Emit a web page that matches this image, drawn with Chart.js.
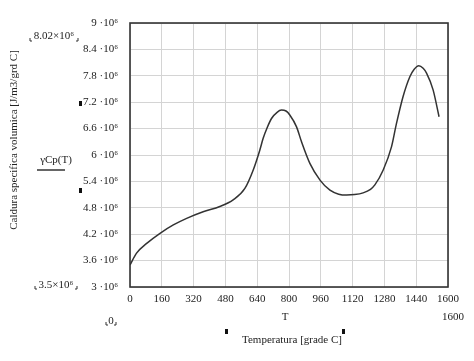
<!DOCTYPE html>
<html><head><meta charset="utf-8">
<script src="https://cdn.jsdelivr.net/npm/chart.js@4/dist/chart.umd.min.js"></script>
<style>html,body{margin:0;padding:0;background:#fff}#w{width:474px;height:361px}</style>
</head><body><div id="w"><canvas id="c" width="474" height="361"></canvas></div>
<script>
const temps = [0,33,84,151,218,285,368,452,519,578,620,653,670,690,712,740,762,785,804,838,863,905,956,1006,1050,1090,1130,1173,1210,1232,1274,1316,1340,1374,1408,1430,1453,1475,1492,1525,1555];
const cpValues = [3.50,3.77,3.99,4.22,4.41,4.56,4.71,4.83,4.98,5.24,5.66,6.11,6.38,6.62,6.83,6.97,7.02,7.00,6.91,6.64,6.30,5.81,5.43,5.20,5.11,5.09,5.10,5.14,5.22,5.32,5.66,6.19,6.70,7.33,7.78,7.95,8.03,7.97,7.86,7.48,6.87].map(v=>v*1e6);
const xTicks = [0,160,320,480,640,800,960,1120,1280,1440,1600];
const yTicks = [3,3.6,4.2,4.8,5.4,6,6.6,7.2,7.8,8.4,9];

const FONT = '"Liberation Serif", "Times New Roman", serif';
const TXT = '#222';

const extras = {
  id:'extras',
  afterDatasetsDraw(chart){
    const {ctx, chartArea:a} = chart;
    ctx.save();
    ctx.strokeStyle = '#333'; ctx.lineWidth = 1.6;
    ctx.strokeRect(a.left, a.top, a.right-a.left, a.bottom-a.top);
    ctx.restore();
  },
  afterDraw(chart){
    const ctx = chart.ctx;
    ctx.save();
    ctx.fillStyle = TXT;
    ctx.font = '11px ' + FONT;
    ctx.save();
    ctx.translate(14, 140);
    ctx.rotate(-Math.PI/2);
    ctx.textAlign='center'; ctx.textBaseline='middle';
    ctx.fillText('Caldura specifica volumica [J/m3/grd C]', 0, 0);
    ctx.restore();
    ctx.textAlign='center'; ctx.textBaseline='middle';
    ctx.fillText('8.02×10⁶', 54, 36);
    ctx.fillText('γCp(T)', 56, 160);
    ctx.fillText('3.5×10⁶', 56, 285);
    ctx.fillText('0', 111, 321);
    ctx.fillText('T', 285, 317);
    ctx.fillText('1600', 453, 317);
    ctx.fillText('Temperatura [grade C]', 292, 340);
    ctx.strokeStyle='#333'; ctx.lineWidth=1.5;
    ctx.beginPath(); ctx.moveTo(37,170); ctx.lineTo(65,170); ctx.stroke();
    ctx.fillStyle='#111';
    [[79,101],[79,188],[225,329],[342,329]].forEach(p=>ctx.fillRect(p[0],p[1],3,5));
    ctx.strokeStyle='#333'; ctx.lineWidth=1;
    function corner(x,y,dir){ctx.beginPath();ctx.moveTo(x,y-3);ctx.lineTo(x,y);ctx.lineTo(x+2*dir,y);ctx.stroke();}
    corner(30,41,1); corner(78,41,-1);
    corner(35,289,1); corner(77,289,-1);
    corner(106,325,1); corner(116,325,-1);
    ctx.restore();
  }
};

new Chart(document.getElementById('c'), {
  type:'line',
  data:{ datasets:[{
    data: temps.map((t,i)=>({x:t,y:cpValues[i]})),
    borderColor:'#333', borderWidth:1.5, pointRadius:0, fill:false,
    cubicInterpolationMode:'monotone'
  }]},
  options:{
    responsive:false, animation:false,
    layout:{padding:{top:23,right:26,left:0,bottom:0}},
    plugins:{legend:{display:false}, tooltip:{enabled:false}},
    scales:{
      x:{type:'linear', min:0, max:1600,
         afterFit(s){s.height = 74;},
         afterBuildTicks(s){s.ticks = xTicks.map(v=>({value:v}));},
         grid:{color:'#d4d4d4', lineWidth:1, drawTicks:false},
         border:{display:false},
         ticks:{color:TXT, font:{family:FONT,size:11}, padding:6, maxRotation:0, autoSkip:false,
           callback:(v)=>String(v)}},
      y:{type:'linear', min:3e6, max:9e6,
         afterFit(s){s.width = 130;},
         afterBuildTicks(s){s.ticks = yTicks.map(v=>({value:v*1e6}));},
         grid:{color:'#d4d4d4', lineWidth:1, drawTicks:false},
         border:{display:false},
         ticks:{color:TXT, font:{family:FONT,size:11}, padding:12, autoSkip:false,
           callback:(v)=>{const m=Math.round(v/1e5)/10; return m+' ·10⁶';}}}
    }
  },
  plugins:[extras]
});
</script></body></html>
